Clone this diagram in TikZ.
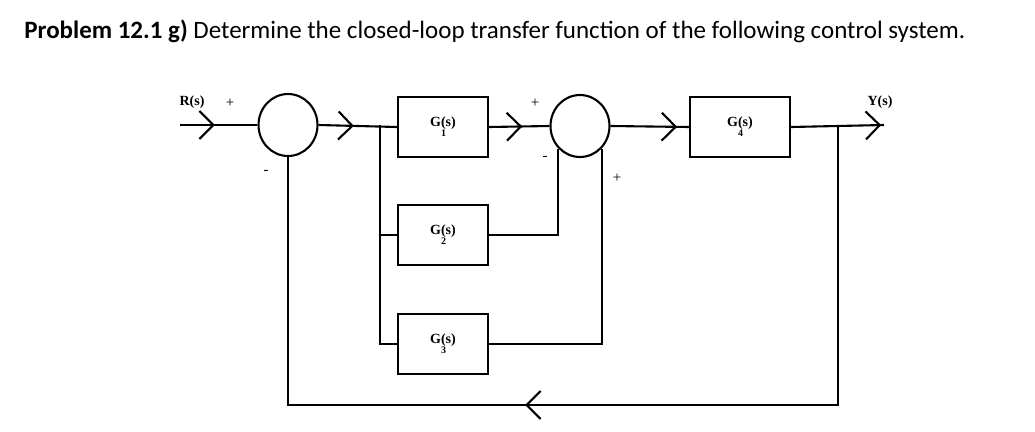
\documentclass[tikz,border=0pt]{standalone}
\usepackage{fontspec}
\setmainfont{Liberation Serif}
\newfontfamily\titlefont{Carlito}
\usetikzlibrary{shapes.geometric,arrows.meta,decorations.markings}
\begin{document}
\begin{tikzpicture}[x=1pt,y=-1pt,
  line width=2.1pt,
  sum/.style={draw,ellipse,minimum width=59pt,minimum height=62pt,inner sep=0pt},
  blk/.style={draw,minimum width=90pt,minimum height=60pt,inner sep=0pt,font=\fontsize{14}{15}\selectfont\bfseries},
  lbl/.style={font=\fontsize{14}{15}\selectfont\bfseries},
  sg/.style={font=\fontsize{15}{16}\selectfont},
  tipat/.style={postaction={decorate},decoration={markings,mark=at position #1 with {\arrow{Straight Barb[length=14pt,width=28pt,line width=2.1pt]}}}}]
\useasboundingbox (0,0) rectangle (1035,431);
\node[anchor=west,font=\titlefont\fontsize{25}{28}\selectfont] (title) at (20,31) {\textbf{Problem 12.1 g)} Determine the closed-loop transfer function of the following control system.};
\newcommand{\gs}[1]{G\rlap{\raisebox{-10pt}{\fontsize{10}{10}\selectfont\bfseries #1}}(s)}
\node[sum] (s1) at (288,125) {};
\node[sum] (s2) at (580,126) {};
\node[blk] (g1) at (443,127) {\gs{1}};
\node[blk] (g2) at (443,235) {\gs{2}};
\node[blk] (g3) at (443,344) {\gs{3}};
\node[blk,minimum width=100pt] (g4) at (740,127) {\gs{4}};
\coordinate (in) at (180,125);
\coordinate (out) at (884,125);
\coordinate (br) at (380,125);
\coordinate (tk) at (838,125);
\coordinate (fb2) at (288,405);
\node[lbl] (R) at (192,102) {R(s)};
\node[lbl] (Y) at (880,102) {Y(s)};
\node[sg] (p1) at (230,103) {+};
\node[sg] (m1) at (266,172) {-};
\node[sg] (p2) at (535,103) {+};
\node[sg] (m2) at (545,158) {-};
\node[sg] (p3) at (617,178) {+};
\draw[tipat=0.45] (in) -- (s1.west);
\draw[tipat=0.45] (s1.east) -- (g1.west);
\draw[tipat=0.55] (g1.east) -- (s2.west);
\draw[tipat=0.85] (s2.east) -- (g4.west);
\draw[tipat=0.97] (g4.east) -- (out);
\draw (br) |- (g3.west);
\draw (br |- g2.west) -- (g2.west);
\draw (g2.east) -| (s2.south west);
\draw (g3.east) -| (s2.south east);
\draw[tipat=0.55] (tk) |- (fb2) -- (s1.south);
\end{tikzpicture}
\end{document}
